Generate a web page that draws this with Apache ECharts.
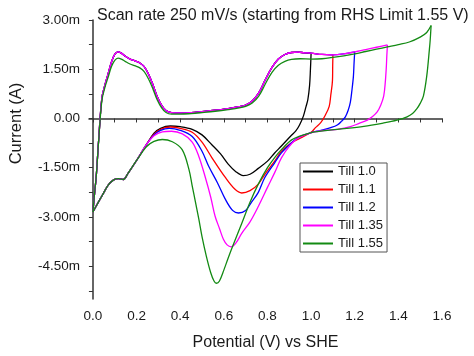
<!DOCTYPE html>
<html><head><meta charset="utf-8">
<script src="https://cdn.jsdelivr.net/npm/echarts@6/dist/echarts.min.js"></script>
<style>html,body{margin:0;padding:0;background:#fff}#c{width:474px;height:356px}</style>
</head><body><div id="c"></div>
<script>
// Legend names and switching (vertex) potentials, V
const seriesNames = ['Till 1.0', 'Till 1.1', 'Till 1.2', 'Till 1.35', 'Till 1.55'];
const vertexPotentials = [1.0, 1.1, 1.2, 1.35, 1.55];

// Anodic (forward) sweep shared by Till 1.0 .. Till 1.35  [potential V, current mA]
const anodicMain = [[0.000,-2.85],[0.008,-2.25],[0.015,-1.78],[0.026,-0.68],[0.041,0.62],[0.055,1.02],[0.068,1.32],[0.085,1.72],[0.100,1.95],[0.115,2.03],[0.130,1.99],[0.150,1.89],[0.170,1.81],[0.195,1.75],[0.215,1.69],[0.235,1.58],[0.255,1.35],[0.275,1.03],[0.295,0.66],[0.315,0.40],[0.335,0.24],[0.36,0.18],[0.40,0.17],[0.45,0.18],[0.50,0.21],[0.56,0.25],[0.62,0.30],[0.67,0.36],[0.70,0.41],[0.73,0.53],[0.76,0.78],[0.79,1.18],[0.82,1.55],[0.85,1.81],[0.88,1.95],[0.91,2.01],[0.94,2.02],[0.97,2.00],[1.00,1.99],[1.05,1.95],[1.10,1.94],[1.15,1.97],[1.20,2.03],[1.25,2.10],[1.30,2.17],[1.35,2.24]];

// Anodic sweep of Till 1.55
const anodicTill155 = [[0.000,-2.85],[0.008,-2.25],[0.015,-1.78],[0.026,-0.70],[0.041,0.55],[0.055,0.95],[0.068,1.22],[0.085,1.58],[0.100,1.77],[0.115,1.84],[0.130,1.81],[0.150,1.73],[0.170,1.66],[0.195,1.60],[0.215,1.54],[0.235,1.43],[0.255,1.20],[0.275,0.90],[0.295,0.56],[0.315,0.32],[0.335,0.18],[0.36,0.13],[0.40,0.13],[0.45,0.15],[0.50,0.18],[0.56,0.22],[0.62,0.27],[0.67,0.32],[0.70,0.37],[0.73,0.47],[0.76,0.68],[0.79,1.05],[0.82,1.40],[0.85,1.62],[0.88,1.74],[0.91,1.80],[0.95,1.82],[1.00,1.81],[1.05,1.82],[1.10,1.86],[1.15,1.91],[1.20,1.97],[1.25,2.04],[1.30,2.11],[1.35,2.18],[1.40,2.25],[1.45,2.33],[1.50,2.48],[1.53,2.62],[1.55,2.83]];

// Cathodic (reverse) sweeps, from vertex down to ~0.245 V
const cathodicTill10 = [[1.00,1.99],[0.997,1.5],[0.993,1.0],[0.985,0.57],[0.977,0.37],[0.965,0.08],[0.947,-0.20],[0.93,-0.38],[0.909,-0.52],[0.864,-0.84],[0.833,-1.05],[0.80,-1.30],[0.758,-1.52],[0.72,-1.70],[0.689,-1.74],[0.655,-1.62],[0.62,-1.39],[0.585,-1.08],[0.545,-0.80],[0.50,-0.50],[0.455,-0.33],[0.40,-0.25],[0.355,-0.23],[0.31,-0.30],[0.28,-0.45],[0.245,-0.80]];
const cathodicTill11 = [[1.10,1.94],[1.099,1.60],[1.098,1.16],[1.09,0.70],[1.083,0.37],[1.065,0.10],[1.045,-0.12],[1.02,-0.28],[1.0,-0.42],[0.95,-0.60],[0.909,-0.75],[0.864,-1.0],[0.833,-1.30],[0.788,-1.70],[0.758,-2.0],[0.72,-2.2],[0.682,-2.27],[0.65,-2.15],[0.606,-1.79],[0.545,-1.19],[0.50,-0.72],[0.455,-0.42],[0.40,-0.30],[0.355,-0.26],[0.31,-0.33],[0.28,-0.48],[0.245,-0.80]];
const cathodicTill12 = [[1.20,2.04],[1.197,1.70],[1.194,1.29],[1.187,0.85],[1.18,0.50],[1.17,0.25],[1.157,0.05],[1.14,-0.08],[1.12,-0.20],[1.09,-0.28],[1.045,-0.36],[1.0,-0.43],[0.94,-0.58],[0.909,-0.75],[0.864,-1.05],[0.833,-1.35],[0.788,-1.80],[0.758,-2.25],[0.727,-2.55],[0.70,-2.80],[0.667,-2.88],[0.64,-2.80],[0.606,-2.45],[0.57,-1.95],[0.53,-1.45],[0.50,-1.0],[0.455,-0.55],[0.40,-0.36],[0.35,-0.30],[0.31,-0.36],[0.28,-0.50],[0.245,-0.80]];
const cathodicTill135 = [[1.35,2.24],[1.347,1.90],[1.345,1.59],[1.34,1.1],[1.333,0.69],[1.32,0.42],[1.303,0.20],[1.28,0.05],[1.258,-0.05],[1.22,-0.15],[1.18,-0.25],[1.12,-0.33],[1.015,-0.41],[0.94,-0.60],[0.90,-0.85],[0.864,-1.2],[0.833,-1.65],[0.80,-2.1],[0.758,-2.68],[0.72,-3.15],[0.682,-3.50],[0.655,-3.80],[0.633,-3.91],[0.615,-3.85],[0.598,-3.68],[0.58,-3.35],[0.56,-2.98],[0.54,-2.40],[0.515,-1.79],[0.485,-1.15],[0.455,-0.72],[0.41,-0.47],[0.36,-0.39],[0.318,-0.41],[0.28,-0.53],[0.245,-0.80]];
const cathodicTill155 = [[1.55,2.83],[1.546,2.40],[1.542,2.09],[1.53,1.29],[1.515,0.69],[1.50,0.46],[1.485,0.30],[1.465,0.15],[1.44,0.05],[1.394,-0.05],[1.33,-0.14],[1.242,-0.24],[1.12,-0.33],[1.015,-0.41],[0.94,-0.56],[0.909,-0.66],[0.864,-0.95],[0.833,-1.19],[0.80,-1.50],[0.758,-2.00],[0.72,-2.55],[0.682,-3.20],[0.64,-3.90],[0.62,-4.25],[0.60,-4.62],[0.58,-4.95],[0.566,-5.02],[0.555,-4.95],[0.54,-4.70],[0.52,-4.20],[0.50,-3.60],[0.485,-3.05],[0.47,-2.55],[0.455,-2.05],[0.44,-1.55],[0.409,-0.95],[0.364,-0.71],[0.318,-0.64],[0.28,-0.70],[0.245,-0.86]];

// Common end of every cathodic sweep, down to the start point at 0 V
const cathodicTail = [[0.245,-0.82],[0.20,-1.28],[0.16,-1.68],[0.139,-1.86],[0.118,-1.83],[0.095,-1.87],[0.07,-2.03],[0.048,-2.28],[0.025,-2.55],[0.0,-2.85]];

// Tick positions
const xTickLabels = [0.0,0.2,0.4,0.6,0.8,1.0,1.2,1.4,1.6];
const xMinorTicks = [0.0,0.1,0.2,0.3,0.4,0.5,0.6,0.7,0.8,0.9,1.0,1.1,1.2,1.3,1.4,1.5,1.6];
const yTickLabels = [-4.5,-3.0,-1.5,0.0,1.5,3.0];
const yMinorTicks = [-5.25,-4.5,-3.75,-3.0,-2.25,-1.5,-0.75,0.0,0.75,1.5,2.25,3.0];

const colors = ['#000000','#ff0000','#0000ff','#ff00ff','#138a13'];
const cathodics = [cathodicTill10, cathodicTill11, cathodicTill12, cathodicTill135, cathodicTill155];

const series = [];
seriesNames.forEach((name, i) => {
  const v = vertexPotentials[i];
  const an = i === 4 ? anodicTill155 : anodicMain.filter(p => p[0] <= v + 1e-9);
  const lineStyle = { color: colors[i], width: 1.3 };
  const common = { name, type: 'line', smooth: 0.35, symbol: 'none', lineStyle, itemStyle: { color: colors[i] }, animation: false, z: 2 + i };
  series.push(Object.assign({ data: an }, common));
  series.push(Object.assign({ data: cathodics[i].concat(cathodicTail.slice(1)) }, common));
});

const font = 'Liberation Sans, Arial, sans-serif';
const chart = echarts.init(document.getElementById('c'));
chart.setOption({
  backgroundColor: '#ffffff',
  animation: false,
  title: { text: 'Scan rate 250 mV/s (starting from RHS Limit 1.55 V)', left: 92, top: 3,
    textStyle: { fontFamily: font, fontSize: 16, fontWeight: 'normal', color: '#1a1a1a' } },
  legend: { orient: 'vertical', left: 300, top: 163, itemWidth: 30, itemHeight: 12, itemGap: 5,
    padding: [2, 4, 2, 2], borderColor: '#555', borderWidth: 1, backgroundColor: '#fff',
    itemStyle: { opacity: 0, color: 'rgba(0,0,0,0)', borderWidth: 0 },
    data: seriesNames, textStyle: { fontFamily: font, fontSize: 13, color: '#1a1a1a' } },
  grid: { left: 86, right: 32, top: 20, bottom: 51 },
  xAxis: { type: 'value', min: -0.018, max: 1.6,
    name: 'Potential (V) vs SHE', nameLocation: 'middle', nameGap: 36,
    nameTextStyle: { fontFamily: font, fontSize: 16, color: '#1a1a1a' },
    axisLine: { lineStyle: { color: '#333', width: 1.5 } },
    axisTick: { show: true, customValues: xMinorTicks, length: 4, lineStyle: { color: '#333', width: 1 } },
    axisLabel: { customValues: xTickLabels, formatter: v => v.toFixed(1), fontFamily: font, fontSize: 13.5, color: '#1a1a1a', margin: 10 },
    splitLine: { show: false } },
  yAxis: { type: 'value', min: -5.5, max: 3.0,
    name: 'Current (A)', nameLocation: 'middle', nameGap: 64, nameRotate: 90,
    nameTextStyle: { fontFamily: font, fontSize: 16.5, color: '#1a1a1a', padding: [0, 0, 0, 72] },
    axisLine: { show: true, lineStyle: { color: '#333', width: 1.5 } },
    axisTick: { show: true, customValues: yMinorTicks, length: 4, lineStyle: { color: '#333', width: 1 } },
    axisLabel: { customValues: yTickLabels, formatter: v => (Math.abs(v) < 1e-9 ? '0.00' : v.toFixed(2) + 'm'), fontFamily: font, fontSize: 13.5, color: '#1a1a1a', margin: 9 },
    splitLine: { show: false } },
  series
});
</script>
</body></html>
